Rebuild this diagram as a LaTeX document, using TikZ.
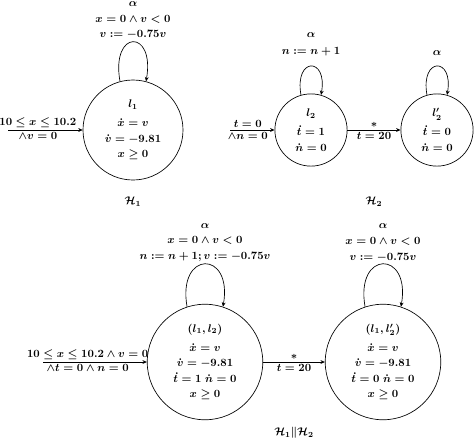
\documentclass[tikz,border=0pt]{standalone}
\usepackage{amsmath}
\usepackage{amssymb}
\usetikzlibrary{arrows.meta}
\begin{document}
\begin{tikzpicture}[x=0.9pt, y=-0.9pt, >={Stealth[length=4pt,width=3.5pt]}, semithick,
  every node/.style={font=\boldmath},
  loc/.style={draw, circle, inner sep=0pt, align=center},
  lbl/.style={align=center, inner sep=2pt}]
\useasboundingbox (0,0) rectangle (474,440);
% H1
\node[loc, minimum size=90pt] (l1) at (133,130) {$l_1$\\[5pt] $\dot{x}=v$\\[2pt] $\dot{v}=-9.81$\\[2pt] $x\geq 0$};
\coordinate (s1) at (8,130);
\draw[->] (s1) -- (l1) node[lbl, pos=0.4, above] {$10\leq x\leq 10.2$} node[lbl, pos=0.4, below] {$\land v=0$};
\draw[->] (l1.105) to[out=100, in=80, distance=48pt] node[lbl, above] {$\alpha$\\[2pt] $x=0\land v<0$\\[2pt] $v:=-0.75v$} (l1.75);
\node (h1) at (133,202) {$\mathcal{H}_1$};
% H2
\node[loc, minimum size=65pt] (l2) at (311,130) {$l_2$\\[5pt] $\dot{t}=1$\\[2.5pt] $\dot{n}=0$};
\node[loc, minimum size=65pt] (l2p) at (437,130) {$l_2'$\\[5pt] $\dot{t}=0$\\[2.5pt] $\dot{n}=0$};
\coordinate (s2) at (230,130);
\draw[->] (s2) -- (l2) node[lbl, pos=0.4, above] {$t=0$} node[lbl, pos=0.4, below] {$\land n=0$};
\draw[->] (l2) -- (l2p) node[lbl, midway, above] {$*$} node[lbl, midway, below] {$t=20$};
\draw[->] (l2.106) to[out=100, in=80, distance=35pt] node[lbl, above=7pt] {$\alpha$\\[3pt] $n:=n+1$} (l2.74);
\draw[->] (l2p.106) to[out=100, in=80, distance=35pt] node[lbl, above=7pt] {$\alpha$} (l2p.74);
\node (h2) at (374,202) {$\mathcal{H}_2$};
% H1 || H2
\node[loc, minimum size=104pt] (c1) at (205,362) {$(l_1,l_2)$\\[5pt] $\dot{x}=v$\\[2pt] $\dot{v}=-9.81$\\[2pt] $\dot{t}=1\ \dot{n}=0$\\[2pt] $x\geq 0$};
\node[loc, minimum size=104pt] (c2) at (383,362) {$(l_1,l_2')$\\[5pt] $\dot{x}=v$\\[2pt] $\dot{v}=-9.81$\\[2pt] $\dot{t}=0\ \dot{n}=0$\\[2pt] $x\geq 0$};
\coordinate (s3) at (43,362);
\draw[->] (s3) -- (c1) node[lbl, pos=0.43, above] {$10\leq x\leq 10.2\land v=0$} node[lbl, pos=0.43, below] {$\land t=0\land n=0$};
\draw[->] (c1) -- (c2) node[lbl, midway, above] {$*$} node[lbl, midway, below] {$t=20$};
\draw[->] (c1.108) to[out=100, in=80, distance=52pt] node[lbl, above] {$\alpha$\\[2pt] $x=0\land v<0$\\[2pt] $n:=n+1;v:=-0.75v$} (c1.72);
\draw[->] (c2.108) to[out=100, in=80, distance=52pt] node[lbl, above] {$\alpha$\\[2pt] $x=0\land v<0$\\[2pt] $v:=-0.75v$} (c2.72);
\node (h12) at (294,433) {$\mathcal{H}_1\|\mathcal{H}_2$};
\end{tikzpicture}
\end{document}
